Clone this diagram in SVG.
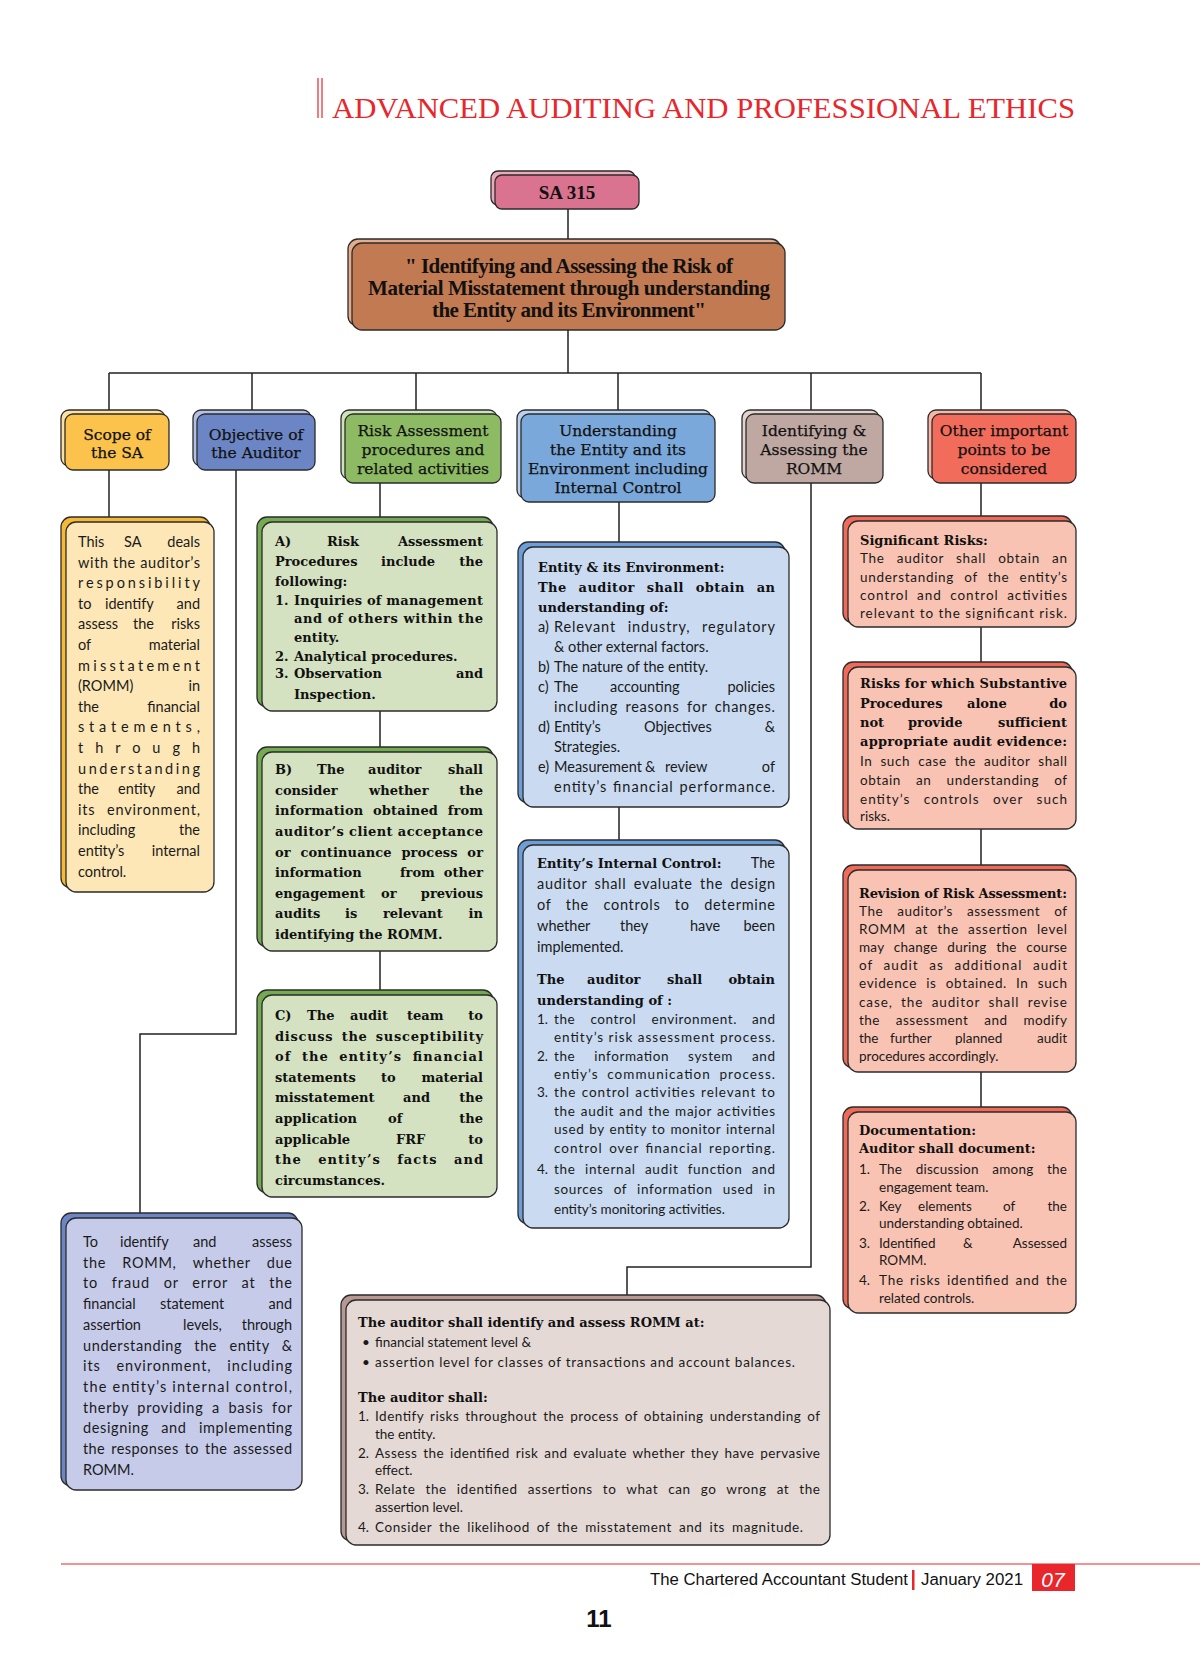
<svg xmlns="http://www.w3.org/2000/svg" width="1200" height="1680" viewBox="0 0 1200 1680">
<style>
.bx{stroke:#2b2b2b;stroke-width:1.3}
.cn{fill:none;stroke:#222;stroke-width:1.5}
.lb{font-family:"DejaVu Serif",serif;font-size:15.5px;fill:#111;text-anchor:middle;stroke:#111;stroke-width:0.25}
.bs{font-family:"DejaVu Serif",serif;font-weight:bold;font-size:13px;fill:#111}
.tt{font-family:"Liberation Serif",serif;font-weight:bold;font-size:21px;fill:#111;text-anchor:middle}
.sn{font-family:Lato,"Liberation Sans",sans-serif;font-size:14.5px;fill:#1a1a1a}
.s13{font-size:13.5px}
.e{text-anchor:end}
.hd{font-family:"Liberation Serif",serif;font-size:30px;fill:#e8262c}
.ft{font-family:"Liberation Sans",Arial,sans-serif;font-size:16px;fill:#111}
</style>
<rect width="1200" height="1680" fill="#fff"/>

<g id="header">
<line x1="318" y1="78" x2="318" y2="118" stroke="#e8262c" stroke-width="1.2"/>
<line x1="322" y1="78" x2="322" y2="118" stroke="#e8262c" stroke-width="1.2"/>
<text class="hd" x="332" y="118" textLength="743" lengthAdjust="spacingAndGlyphs">ADVANCED AUDITING AND PROFESSIONAL ETHICS</text>
</g>

<g id="connectors">
<path class="cn" d="M568 209V239M568 330V373M109 373H981M109 373V410M252 373V410M416 373V410M618 373V410M811 373V410M981 373V410"/>
<path class="cn" d="M109 470V517"/>
<path class="cn" d="M236 470V1034H140V1213"/>
<path class="cn" d="M380 483V517M380 711V747M380 951V990"/>
<path class="cn" d="M619 502V542M619 807V840"/>
<path class="cn" d="M811 483V1267H627V1295"/>
<path class="cn" d="M981 483V516M981 627V662M981 829V865M981 1072V1107"/>
</g>

<g id="sa315">
<rect class="bx" x="491" y="171" width="144" height="34" rx="7" fill="#eba9bb"/>
<rect class="bx" x="495" y="175" width="144" height="34" rx="7" fill="#d9738f"/>
<text class="tt" x="567" y="199" style="font-size:19px">SA 315</text>
</g>

<g id="main">
<rect class="bx" x="348" y="239" width="433" height="87" rx="10" fill="#e5ad8c"/>
<rect class="bx" x="352" y="243" width="433" height="87" rx="10" fill="#c17a51"/>
<text class="tt" x="569" y="273" textLength="328" lengthAdjust="spacing">" Identifying and Assessing the Risk of</text>
<text class="tt" x="569" y="295" textLength="402" lengthAdjust="spacing">Material Misstatement through understanding</text>
<text class="tt" x="569" y="317" textLength="274" lengthAdjust="spacing">the Entity and its Environment"</text>
</g>

<g id="scope">
<rect class="bx" x="61" y="410" width="104" height="56" rx="8" fill="#fde0a0"/>
<rect class="bx" x="65" y="414" width="104" height="56" rx="8" fill="#fbc34b"/>
<text class="lb" x="117" y="440">Scope of</text>
<text class="lb" x="117" y="458">the SA</text>
</g>

<g id="objective">
<rect class="bx" x="193" y="410" width="118" height="56" rx="8" fill="#b2c0e6"/>
<rect class="bx" x="197" y="414" width="118" height="56" rx="8" fill="#6c86c5"/>
<text class="lb" x="256" y="440">Objective of</text>
<text class="lb" x="256" y="458">the Auditor</text>
</g>

<g id="risk">
<rect class="bx" x="341" y="410" width="156" height="69" rx="8" fill="#cfe3bb"/>
<rect class="bx" x="345" y="414" width="156" height="69" rx="8" fill="#8dbb64"/>
<text class="lb" x="423" y="436">Risk Assessment</text>
<text class="lb" x="423" y="455">procedures and</text>
<text class="lb" x="423" y="474">related activities</text>
</g>

<g id="understanding">
<rect class="bx" x="517" y="410" width="194" height="88" rx="8" fill="#b9d0ee"/>
<rect class="bx" x="521" y="414" width="194" height="88" rx="8" fill="#7ba8db"/>
<text class="lb" x="618" y="436">Understanding</text>
<text class="lb" x="618" y="455">the Entity and its</text>
<text class="lb" x="618" y="474">Environment including</text>
<text class="lb" x="618" y="493">Internal Control</text>
</g>

<g id="identifying">
<rect class="bx" x="742" y="410" width="137" height="69" rx="8" fill="#e2d3cf"/>
<rect class="bx" x="746" y="414" width="137" height="69" rx="8" fill="#bfa8a2"/>
<text class="lb" x="814" y="436">Identifying &amp;</text>
<text class="lb" x="814" y="455">Assessing the</text>
<text class="lb" x="814" y="474">ROMM</text>
</g>

<g id="other">
<rect class="bx" x="928" y="410" width="144" height="69" rx="8" fill="#f9b6a8"/>
<rect class="bx" x="932" y="414" width="144" height="69" rx="8" fill="#f26c5c"/>
<text class="lb" x="1004" y="436">Other important</text>
<text class="lb" x="1004" y="455">points to be</text>
<text class="lb" x="1004" y="474">considered</text>
</g>

<g id="scope-text">
<rect class="bx" x="61" y="517" width="149" height="371" rx="10" fill="#f6b935"/>
<rect class="bx" x="66" y="522" width="148" height="370" rx="10" fill="#fde7b6"/>
<g class="sn">
<text x="78" y="547">This</text><text x="124" y="547">SA</text><text class="e" x="200" y="547">deals</text>
<text x="78" y="568" textLength="122" lengthAdjust="spacing">with the auditor’s</text>
<text x="78" y="588" textLength="122" lengthAdjust="spacing">responsibility</text>
<text x="78" y="609">to</text><text x="105" y="609">identify</text><text class="e" x="200" y="609">and</text>
<text x="78" y="629">assess</text><text x="133" y="629">the</text><text class="e" x="200" y="629">risks</text>
<text x="78" y="650">of</text><text class="e" x="200" y="650">material</text>
<text x="78" y="671" textLength="122" lengthAdjust="spacing">misstatement</text>
<text x="78" y="691">(ROMM)</text><text class="e" x="200" y="691">in</text>
<text x="78" y="712">the</text><text class="e" x="200" y="712">financial</text>
<text x="78" y="732" textLength="122" lengthAdjust="spacing">statements,</text>
<text x="78" y="753" textLength="122" lengthAdjust="spacing">through</text>
<text x="78" y="774" textLength="122" lengthAdjust="spacing">understanding</text>
<text x="78" y="794">the</text><text x="118" y="794">entity</text><text class="e" x="200" y="794">and</text>
<text x="78" y="815" word-spacing="7" textLength="122" lengthAdjust="spacing">its environment,</text>
<text x="78" y="835">including</text><text class="e" x="200" y="835">the</text>
<text x="78" y="856">entity’s</text><text class="e" x="200" y="856">internal</text>
<text x="78" y="877">control.</text>
</g>
</g>

<g id="objective-text">
<rect class="bx" x="61" y="1213" width="237" height="273" rx="10" fill="#6c86c5"/>
<rect class="bx" x="66" y="1218" width="236" height="272" rx="10" fill="#c6cbea"/>
<g class="sn">
<text x="83" y="1247">To</text><text x="120" y="1247">identify</text><text x="193" y="1247">and</text><text class="e" x="292" y="1247">assess</text>
<text x="83" y="1268" word-spacing="12" textLength="209" lengthAdjust="spacing">the ROMM, whether due</text>
<text x="83" y="1288" word-spacing="9" textLength="209" lengthAdjust="spacing">to fraud or error at the</text>
<text x="83" y="1309">financial</text><text x="160" y="1309">statement</text><text class="e" x="292" y="1309">and</text>
<text x="83" y="1330">assertion</text><text x="183" y="1330">levels,</text><text class="e" x="292" y="1330">through</text>
<text x="83" y="1351" word-spacing="8" textLength="209" lengthAdjust="spacing">understanding the entity &amp;</text>
<text x="83" y="1371" word-spacing="11" textLength="209" lengthAdjust="spacing">its environment, including</text>
<text x="83" y="1392" textLength="209" lengthAdjust="spacing">the entity’s internal control,</text>
<text x="83" y="1413" word-spacing="4" textLength="209" lengthAdjust="spacing">therby providing a basis for</text>
<text x="83" y="1433" word-spacing="8" textLength="209" lengthAdjust="spacing">designing and implementing</text>
<text x="83" y="1454" word-spacing="2" textLength="209" lengthAdjust="spacing">the responses to the assessed</text>
<text x="83" y="1475">ROMM.</text>
</g>
</g>

<g id="risk-a">
<rect class="bx" x="257" y="517" width="236" height="190" rx="10" fill="#73aa52"/>
<rect class="bx" x="262" y="522" width="235" height="189" rx="10" fill="#d5e2c1"/>
<g class="bs">
<text x="275" y="546">A)</text><text x="327" y="546">Risk</text><text class="e" x="483" y="546">Assessment</text>
<text x="275" y="566">Procedures</text><text x="381" y="566">include</text><text class="e" x="483" y="566">the</text>
<text x="275" y="586">following:</text>
<text x="275" y="605">1.</text><text x="294" y="605" textLength="189" lengthAdjust="spacing">Inquiries of management</text>
<text x="294" y="623" textLength="189" lengthAdjust="spacing">and of others within the</text>
<text x="294" y="642">entity.</text>
<text x="275" y="661">2.</text><text x="294" y="661">Analytical procedures.</text>
<text x="275" y="678">3.</text><text x="294" y="678">Observation</text><text class="e" x="483" y="678">and</text>
<text x="294" y="699">Inspection.</text>
</g>
</g>

<g id="risk-b">
<rect class="bx" x="257" y="747" width="236" height="200" rx="10" fill="#73aa52"/>
<rect class="bx" x="262" y="752" width="235" height="199" rx="10" fill="#d5e2c1"/>
<g class="bs">
<text x="275" y="774">B)</text><text x="317" y="774">The</text><text x="368" y="774">auditor</text><text class="e" x="483" y="774">shall</text>
<text x="275" y="795">consider</text><text x="369" y="795">whether</text><text class="e" x="483" y="795">the</text>
<text x="275" y="815" word-spacing="5" textLength="208" lengthAdjust="spacing">information obtained from</text>
<text x="275" y="836" textLength="208" lengthAdjust="spacing">auditor’s client acceptance</text>
<text x="275" y="857" word-spacing="5" textLength="208" lengthAdjust="spacing">or continuance process or</text>
<text x="275" y="877">information</text><text x="400" y="877">from</text><text class="e" x="483" y="877">other</text>
<text x="275" y="898">engagement</text><text x="381" y="898">or</text><text class="e" x="483" y="898">previous</text>
<text x="275" y="918">audits</text><text x="345" y="918">is</text><text x="383" y="918">relevant</text><text class="e" x="483" y="918">in</text>
<text x="275" y="939">identifying the ROMM.</text>
</g>
</g>

<g id="risk-c">
<rect class="bx" x="257" y="990" width="236" height="203" rx="10" fill="#73aa52"/>
<rect class="bx" x="262" y="995" width="235" height="202" rx="10" fill="#d5e2c1"/>
<g class="bs">
<text x="275" y="1020">C)</text><text x="307" y="1020">The</text><text x="350" y="1020">audit</text><text x="407" y="1020">team</text><text class="e" x="483" y="1020">to</text>
<text x="275" y="1041" word-spacing="3" textLength="208" lengthAdjust="spacing">discuss the susceptibility</text>
<text x="275" y="1061" word-spacing="5" textLength="208" lengthAdjust="spacing">of the entity’s financial</text>
<text x="275" y="1082">statements</text><text x="381" y="1082">to</text><text class="e" x="483" y="1082">material</text>
<text x="275" y="1102">misstatement</text><text x="403" y="1102">and</text><text class="e" x="483" y="1102">the</text>
<text x="275" y="1123">application</text><text x="388" y="1123">of</text><text class="e" x="483" y="1123">the</text>
<text x="275" y="1144">applicable</text><text x="396" y="1144">FRF</text><text class="e" x="483" y="1144">to</text>
<text x="275" y="1164" word-spacing="11" textLength="208" lengthAdjust="spacing">the entity’s facts and</text>
<text x="275" y="1185">circumstances.</text>
</g>
</g>

<g id="entity">
<rect class="bx" x="518" y="542" width="267" height="261" rx="10" fill="#6c9fd9"/>
<rect class="bx" x="523" y="547" width="266" height="260" rx="10" fill="#c9daf1"/>
<text class="bs" x="538" y="572">Entity &amp; its Environment:</text>
<text class="bs" x="538" y="592" word-spacing="7" textLength="237" lengthAdjust="spacing">The auditor shall obtain an</text>
<text class="bs" x="538" y="612">understanding of:</text>
<g class="sn">
<text x="538" y="632">a)</text><text x="554" y="632" word-spacing="7" textLength="221" lengthAdjust="spacing">Relevant industry, regulatory</text>
<text x="554" y="652">&amp; other external factors.</text>
<text x="538" y="672">b)</text><text x="554" y="672">The nature of the entity.</text>
<text x="538" y="692">c)</text><text x="554" y="692">The</text><text x="610" y="692">accounting</text><text class="e" x="775" y="692">policies</text>
<text x="554" y="712" word-spacing="3" textLength="221" lengthAdjust="spacing">including reasons for changes.</text>
<text x="538" y="732">d)</text><text x="554" y="732">Entity’s</text><text x="644" y="732">Objectives</text><text class="e" x="775" y="732">&amp;</text>
<text x="554" y="752">Strategies.</text>
<text x="538" y="772">e)</text><text x="554" y="772">Measurement</text><text x="645" y="772">&amp;</text><text x="665" y="772">review</text><text class="e" x="775" y="772">of</text>
<text x="554" y="792" word-spacing="1" textLength="221" lengthAdjust="spacing">entity’s financial performance.</text>
</g>
</g>

<g id="internal-control">
<rect class="bx" x="518" y="840" width="267" height="384" rx="10" fill="#6c9fd9"/>
<rect class="bx" x="523" y="845" width="266" height="383" rx="10" fill="#c9daf1"/>
<text class="bs" x="537" y="868">Entity’s Internal Control:</text><text class="sn e" x="775" y="868">The</text>
<g class="sn">
<text x="537" y="889" word-spacing="3" textLength="238" lengthAdjust="spacing">auditor shall evaluate the design</text>
<text x="537" y="910" word-spacing="10" textLength="238" lengthAdjust="spacing">of the controls to determine</text>
<text x="537" y="931">whether</text><text x="620" y="931">they</text><text x="690" y="931">have</text><text class="e" x="775" y="931">been</text>
<text x="537" y="952">implemented.</text>
</g>
<g class="bs">
<text x="537" y="984">The</text><text x="587" y="984">auditor</text><text x="667" y="984">shall</text><text class="e" x="775" y="984">obtain</text>
<text x="537" y="1005">understanding of :</text>
</g>
<g class="sn s13">
<text x="537" y="1024">1.</text><text x="554" y="1024" word-spacing="11" textLength="221" lengthAdjust="spacing">the control environment. and</text>
<text x="554" y="1042" textLength="221" lengthAdjust="spacing">entity’s risk assessment process.</text>
<text x="537" y="1061">2.</text><text x="554" y="1061" word-spacing="15" textLength="221" lengthAdjust="spacing">the information system and</text>
<text x="554" y="1079" word-spacing="4" textLength="221" lengthAdjust="spacing">entiy’s communication process.</text>
<text x="537" y="1097">3.</text><text x="554" y="1097" word-spacing="1" textLength="221" lengthAdjust="spacing">the control activities relevant to</text>
<text x="554" y="1116" word-spacing="1" textLength="221" lengthAdjust="spacing">the audit and the major activities</text>
<text x="554" y="1134" word-spacing="1" textLength="221" lengthAdjust="spacing">used by entity to monitor internal</text>
<text x="554" y="1153" word-spacing="2" textLength="221" lengthAdjust="spacing">control over financial reporting.</text>
<text x="537" y="1174">4.</text><text x="554" y="1174" word-spacing="5" textLength="221" lengthAdjust="spacing">the internal audit function and</text>
<text x="554" y="1194" word-spacing="6" textLength="221" lengthAdjust="spacing">sources of information used in</text>
<text x="554" y="1214">entity’s monitoring activities.</text>
</g>
</g>

<g id="romm">
<rect class="bx" x="341" y="1295" width="485" height="246" rx="10" fill="#b79893"/>
<rect class="bx" x="346" y="1300" width="484" height="245" rx="10" fill="#e5d9d6"/>
<text class="bs" x="358" y="1327">The auditor shall identify and assess ROMM at:</text>
<g class="sn s13">
<text x="362" y="1347">•</text><text x="375" y="1347">financial statement level &amp;</text>
<text x="362" y="1367">•</text><text x="375" y="1367" textLength="420" lengthAdjust="spacing">assertion level for classes of transactions and account balances.</text>
</g>
<text class="bs" x="358" y="1402">The auditor shall:</text>
<g class="sn s13">
<text x="358" y="1421">1.</text><text x="375" y="1421" word-spacing="2" textLength="445" lengthAdjust="spacing">Identify risks throughout the process of obtaining understanding of</text>
<text x="375" y="1439">the entity.</text>
<text x="358" y="1458">2.</text><text x="375" y="1458" word-spacing="2" textLength="445" lengthAdjust="spacing">Assess the identified risk and evaluate whether they have pervasive</text>
<text x="375" y="1475">effect.</text>
<text x="358" y="1494">3.</text><text x="375" y="1494" word-spacing="6" textLength="445" lengthAdjust="spacing">Relate the identified assertions to what can go wrong at the</text>
<text x="375" y="1512">assertion level.</text>
<text x="358" y="1532">4.</text><text x="375" y="1532" word-spacing="3" textLength="428" lengthAdjust="spacing">Consider the likelihood of the misstatement and its magnitude.</text>
</g>
</g>

<g id="significant">
<rect class="bx" x="843" y="516" width="229" height="107" rx="10" fill="#ef6a59"/>
<rect class="bx" x="848" y="521" width="228" height="106" rx="10" fill="#f9c3b3"/>
<text class="bs" x="860" y="545">Significant Risks:</text>
<g class="sn s13">
<text x="860" y="563" word-spacing="8" textLength="207" lengthAdjust="spacing">The auditor shall obtain an</text>
<text x="860" y="582" word-spacing="6" textLength="207" lengthAdjust="spacing">understanding of the entity’s</text>
<text x="860" y="600" word-spacing="4" textLength="207" lengthAdjust="spacing">control and control activities</text>
<text x="860" y="618" textLength="207" lengthAdjust="spacing">relevant to the significant risk.</text>
</g>
</g>

<g id="substantive">
<rect class="bx" x="843" y="662" width="229" height="163" rx="10" fill="#ef6a59"/>
<rect class="bx" x="848" y="667" width="228" height="162" rx="10" fill="#f9c3b3"/>
<g class="bs">
<text x="860" y="688" textLength="207" lengthAdjust="spacing">Risks for which Substantive</text>
<text x="860" y="708">Procedures</text><text x="967" y="708">alone</text><text class="e" x="1067" y="708">do</text>
<text x="860" y="727">not</text><text x="908" y="727">provide</text><text class="e" x="1067" y="727">sufficient</text>
<text x="860" y="746" textLength="207" lengthAdjust="spacing">appropriate audit evidence:</text>
</g>
<g class="sn s13">
<text x="860" y="766" word-spacing="4" textLength="207" lengthAdjust="spacing">In such case the auditor shall</text>
<text x="860" y="785" word-spacing="11" textLength="207" lengthAdjust="spacing">obtain an understanding of</text>
<text x="860" y="804" word-spacing="9" textLength="207" lengthAdjust="spacing">entity’s controls over such</text>
<text x="860" y="821">risks.</text>
</g>
</g>

<g id="revision">
<rect class="bx" x="843" y="865" width="229" height="203" rx="10" fill="#ef6a59"/>
<rect class="bx" x="848" y="870" width="228" height="202" rx="10" fill="#f9c3b3"/>
<text class="bs" x="859" y="898" textLength="208" lengthAdjust="spacing">Revision of Risk Assessment:</text>
<g class="sn s13">
<text x="859" y="916" word-spacing="10" textLength="208" lengthAdjust="spacing">The auditor’s assessment of</text>
<text x="859" y="934" word-spacing="5" textLength="208" lengthAdjust="spacing">ROMM at the assertion level</text>
<text x="859" y="952" word-spacing="6" textLength="208" lengthAdjust="spacing">may change during the course</text>
<text x="859" y="970" word-spacing="6" textLength="208" lengthAdjust="spacing">of audit as additional audit</text>
<text x="859" y="988" word-spacing="5" textLength="208" lengthAdjust="spacing">evidence is obtained. In such</text>
<text x="859" y="1007" word-spacing="4" textLength="208" lengthAdjust="spacing">case, the auditor shall revise</text>
<text x="859" y="1025" word-spacing="12" textLength="208" lengthAdjust="spacing">the assessment and modify</text>
<text x="859" y="1043">the</text><text x="890" y="1043">further</text><text x="955" y="1043">planned</text><text class="e" x="1067" y="1043">audit</text>
<text x="859" y="1061">procedures accordingly.</text>
</g>
</g>

<g id="documentation">
<rect class="bx" x="843" y="1107" width="229" height="202" rx="10" fill="#ef6a59"/>
<rect class="bx" x="848" y="1112" width="228" height="201" rx="10" fill="#f9c3b3"/>
<g class="bs">
<text x="859" y="1135">Documentation:</text>
<text x="859" y="1153">Auditor shall document:</text>
</g>
<g class="sn s13">
<text x="859" y="1174">1.</text><text x="879" y="1174" word-spacing="10" textLength="188" lengthAdjust="spacing">The discussion among the</text>
<text x="879" y="1192">engagement team.</text>
<text x="859" y="1211">2.</text><text x="879" y="1211">Key</text><text x="918" y="1211">elements</text><text x="1003" y="1211">of</text><text class="e" x="1067" y="1211">the</text>
<text x="879" y="1228">understanding obtained.</text>
<text x="859" y="1248">3.</text><text x="879" y="1248">Identified</text><text x="963" y="1248">&amp;</text><text class="e" x="1067" y="1248">Assessed</text>
<text x="879" y="1265">ROMM.</text>
<text x="859" y="1285">4.</text><text x="879" y="1285" word-spacing="2" textLength="188" lengthAdjust="spacing">The risks identified and the</text>
<text x="879" y="1303">related controls.</text>
</g>
</g>

<g id="footer">
<line x1="61" y1="1564" x2="1200" y2="1564" stroke="#e8262c" stroke-width="1.2"/>
<text class="ft" x="650" y="1585" textLength="258" lengthAdjust="spacingAndGlyphs">The Chartered Accountant Student</text>
<rect x="912" y="1570" width="2.5" height="20" fill="#e8262c"/>
<text class="ft" x="921" y="1585" textLength="102" lengthAdjust="spacingAndGlyphs">January 2021</text>
<rect x="1032" y="1564" width="43" height="27" fill="#e8262c"/>
<text class="ft" x="1053" y="1587" style="font-size:21px;font-style:italic;fill:#fff" text-anchor="middle">07</text>
<text x="599" y="1627" style="font-family:'Liberation Sans',Arial,sans-serif;font-weight:bold;font-size:24px;fill:#111" text-anchor="middle">11</text>
</g>
</svg>
